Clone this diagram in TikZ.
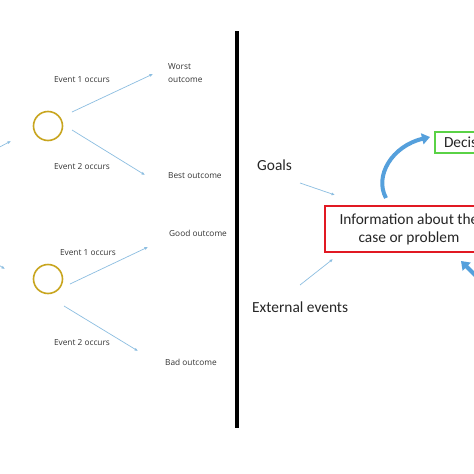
\documentclass[tikz,border=0pt]{standalone}
\usepackage{fontspec}
\setmainfont{Carlito}
\newfontfamily\smallf{Open Sans}
\usetikzlibrary{arrows.meta}
\definecolor{thinblue}{RGB}{140,190,225}
\definecolor{thickblue}{RGB}{85,160,220}
\definecolor{circgold}{RGB}{200,165,30}
\definecolor{boxred}{RGB}{225,25,35}
\definecolor{boxgreen}{RGB}{90,210,70}
\begin{document}
\begin{tikzpicture}[x=1pt,y=-1pt,
  thinarrow/.style={draw=thinblue, line width=0.7pt, -{Latex[length=3.5pt,width=3pt]}},
  thickarrow/.style={draw=thickblue, line width=4pt, -{Triangle[length=8pt,width=11pt]}},
  chance/.style={circle, draw=circgold, line width=1.6pt, minimum size=29pt, inner sep=0pt},
  smalltext/.style={font=\smallf\fontsize{8.3}{13}\selectfont, text=black!80, inner sep=0pt},
  bigtext/.style={font=\fontsize{15.4}{18}\selectfont, text=black!85, inner sep=0pt},
]
\useasboundingbox (0,0) rectangle (474,474);
\clip (0,0) rectangle (474,474);
\fill[white] (0,0) rectangle (474,474);

% left part: top tree
\node[chance] (c1) at (48,126) {};
\coordinate (s1a) at (72,112);
\coordinate (s1b) at (72,130);
\coordinate (e1a) at (153,74);
\coordinate (e1b) at (145,175);
\node[smalltext] (ev11) at (82,80) {Event 1 occurs};
\node[smalltext] (ev12) at (82,167) {Event 2 occurs};
\node[smalltext, anchor=west, align=left] (worst) at (168,73) {Worst\\outcome};
\node[smalltext, anchor=west] (best) at (168,176) {Best outcome};
\draw[thinarrow] (s1a) -- (e1a);
\draw[thinarrow] (s1b) -- (e1b);
\coordinate (l1a) at (-6,150);
\coordinate (l1b) at (11,141);
\draw[thinarrow] (l1a) -- (l1b);

% left part: bottom tree
\node[chance] (c2) at (48,279) {};
\coordinate (s2a) at (70,284);
\coordinate (s2b) at (64,306);
\coordinate (e2a) at (148,247);
\coordinate (e2b) at (138,351);
\node[smalltext] (ev21) at (88,253) {Event 1 occurs};
\node[smalltext] (ev22) at (82,343) {Event 2 occurs};
\node[smalltext, anchor=west] (good) at (169,233) {Good outcome};
\node[smalltext, anchor=west] (bad) at (165,362) {Bad outcome};
\draw[thinarrow] (s2a) -- (e2a);
\draw[thinarrow] (s2b) -- (e2b);
\coordinate (l2a) at (-6,262);
\coordinate (l2b) at (5,269);
\draw[thinarrow] (l2a) -- (l2b);

% divider
\coordinate (vtop) at (236.5,31);
\coordinate (vbot) at (236.5,428);
\draw[line width=4pt, black] (vtop) -- (vbot);

% right part
\node[bigtext, draw=boxred, line width=2pt, minimum width=168pt, minimum height=46pt,
      align=center] (info) at (409,229) {Information about the\\case or problem};
\node[bigtext, draw=boxgreen, line width=2pt, minimum height=21pt, inner xsep=9pt,
      anchor=west] (dec) at (434,142.5) {Decision};
\node[bigtext, anchor=west] (goals) at (257,165) {Goals};
\node[bigtext, anchor=west] (ext) at (252,307) {External events};
\coordinate (g1) at (300,183);
\coordinate (g2) at (335,195);
\draw[thinarrow] (g1) -- (g2);
\coordinate (x1) at (300,285);
\coordinate (x2) at (333,259);
\draw[thinarrow] (x1) -- (x2);

\coordinate (ca) at (386,198);
\coordinate (cb) at (430,137);
\draw[thickarrow] (ca) .. controls (374,176) and (392,146) .. (cb);
\coordinate (da) at (492,292);
\coordinate (db) at (461,261);
\draw[thickarrow] (da) .. controls (480,280) .. (db);
\end{tikzpicture}
\end{document}
